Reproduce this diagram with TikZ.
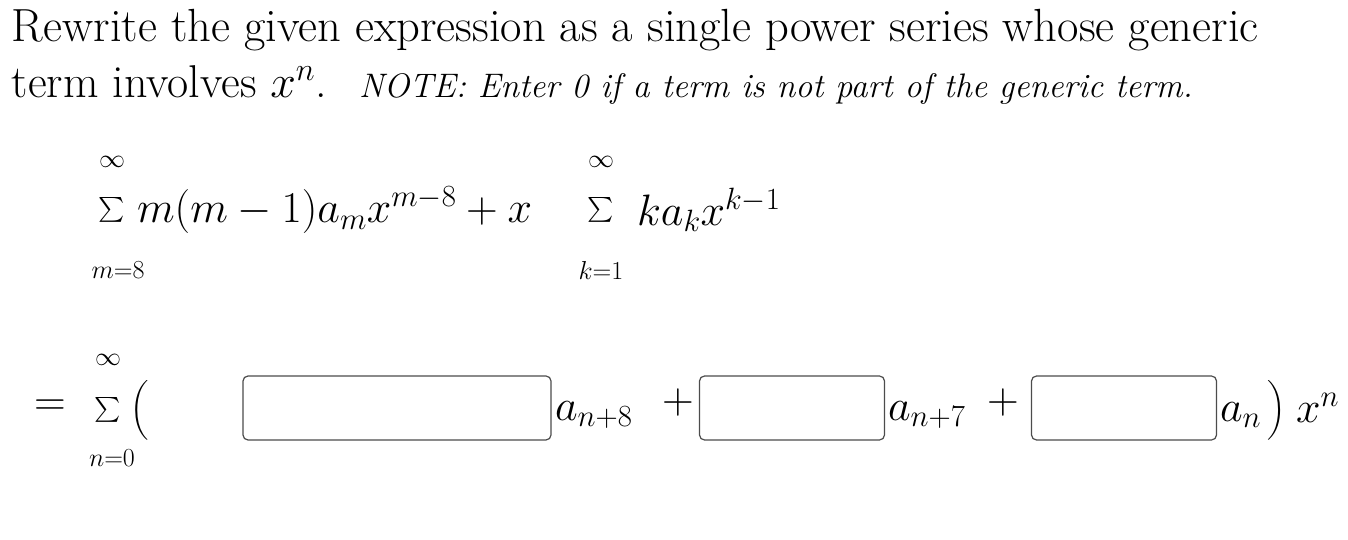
\RequirePackage{fix-cm}
\documentclass[tikz,border=0pt]{standalone}
\usepackage{amsmath}
\usepackage{exscale}
\begin{document}
\begin{tikzpicture}[x=1pt,y=1pt,
  every node/.style={inner sep=0pt,outer sep=0pt},
  ansbox/.style={draw=black!70,line width=1.2pt,rounded corners=5pt,fill=white},
  big/.style={font=\fontsize{44}{50}\selectfont},
  lim/.style={font=\fontsize{26}{30}\selectfont}]
\useasboundingbox (0,0) rectangle (1348,540);
\node[anchor=west,font=\fontsize{46.5}{50}\selectfont] (l1) at (12,510) {Rewrite the given expression as a single power series whose generic};
\node[anchor=west,font=\fontsize{46}{50}\selectfont] (l2) at (12,455) {term involves $x^n$. \ \fontsize{34}{40}\selectfont\itshape NOTE: Enter 0 if a term is not part of the generic term.};
% first expression
\node[big] (s1) at (112,330) {$\sum$};
\node[lim] (i1) at (112,378) {$\infty$};
\node[lim] (b1) at (118,270) {$m{=}8$};
\node[big,anchor=west] (e1) at (137,330) {$m(m-1)a_m x^{m-8}+x$};
\node[big] (s2) at (601,330) {$\sum$};
\node[lim] (i2) at (601,378) {$\infty$};
\node[lim] (b2) at (601,270) {$k{=}1$};
\node[big,anchor=west] (e2) at (637,330) {$k a_k x^{k-1}$};
% second line
\node[big] (eq) at (50,132) {$=$};
\node[big] (s3) at (108,130) {$\sum$};
\node[lim] (i3) at (108,180) {$\infty$};
\node[lim] (b3) at (112,82) {$n{=}0$};
\node[font=\fontsize{44}{50}\selectfont] (lp) at (140,130) {$\left(\rule{0pt}{42pt}\right.$};
\node[ansbox,minimum width=308pt,minimum height=64pt] (bx1) at (397,132) {};
\node[big,anchor=west] (a1) at (555,125) {$a_{n+8}$};
\node[big] (p1) at (678,137) {$+$};
\node[ansbox,minimum width=185pt,minimum height=64pt] (bx2) at (792,132) {};
\node[big,anchor=west] (a2) at (888,125) {$a_{n+7}$};
\node[big] (p2) at (1003,137) {$+$};
\node[ansbox,minimum width=185pt,minimum height=64pt] (bx3) at (1124,132) {};
\node[big,anchor=west] (a3) at (1220,125) {$a_n$};
\node[font=\fontsize{44}{50}\selectfont] (rp) at (1276,130) {$\left.\rule{0pt}{42pt}\right)$};
\node[big,anchor=west] (xn) at (1296,132) {$x^n$};
\end{tikzpicture}
\end{document}
